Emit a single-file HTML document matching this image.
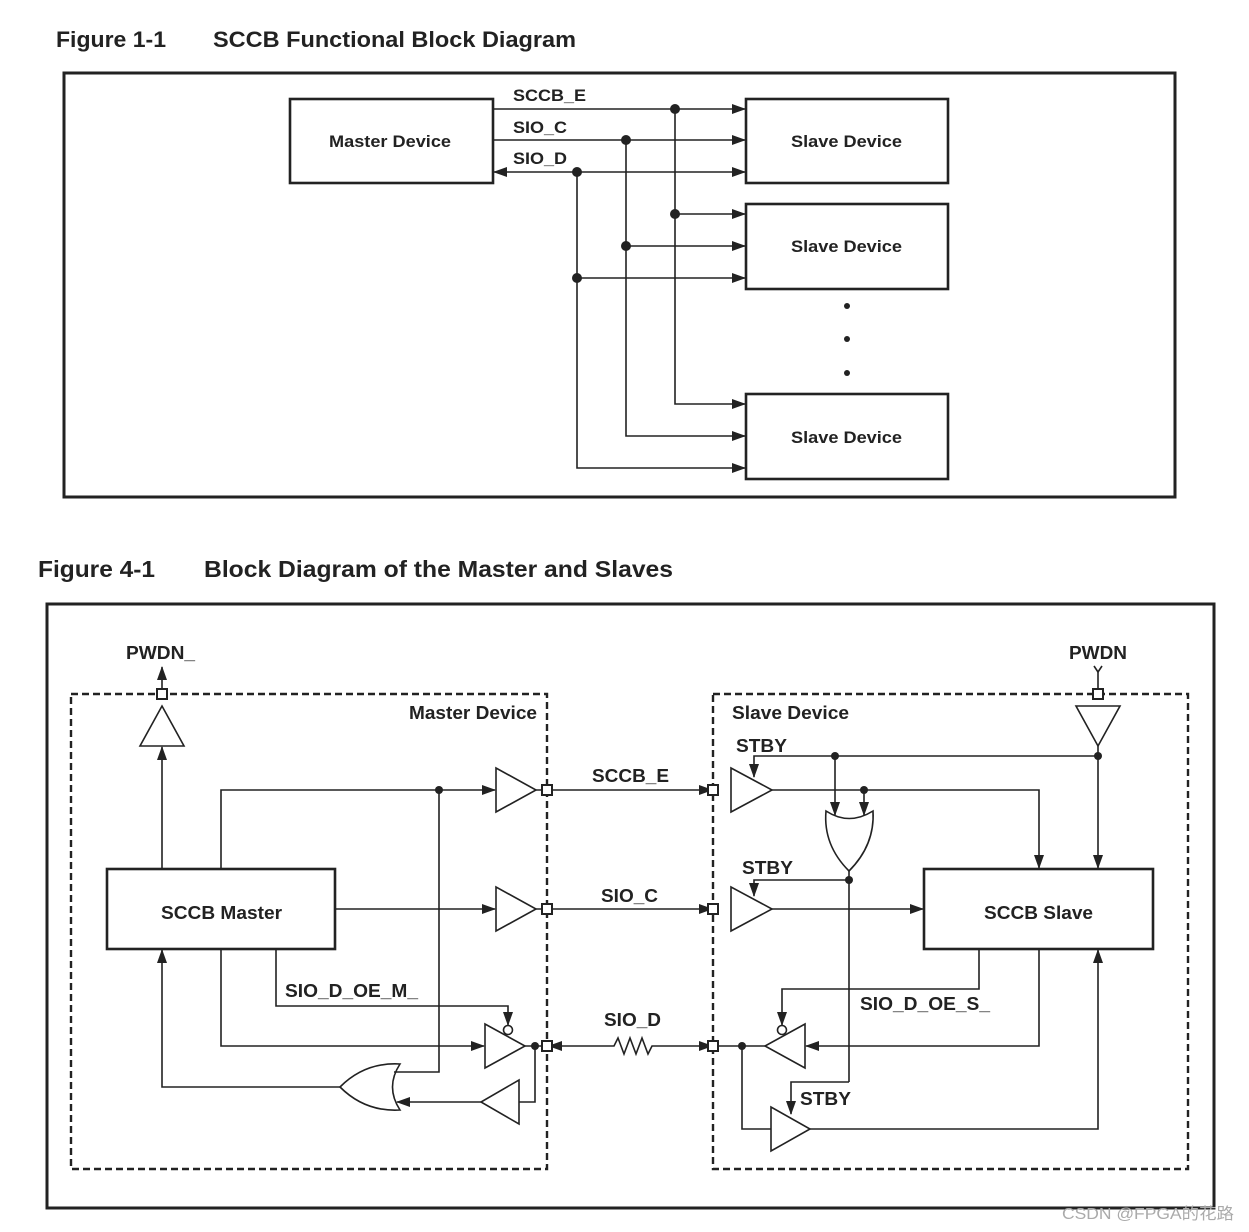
<!DOCTYPE html>
<html><head><meta charset="utf-8"><style>
html,body{margin:0;padding:0;background:#fff;}
svg{display:block;}
text{font-family:"Liberation Sans","Noto Sans CJK SC",sans-serif;font-weight:bold;fill:#222;}
</style></head><body>
<svg width="1249" height="1232" viewBox="0 0 1249 1232" xmlns="http://www.w3.org/2000/svg">
<defs>
<marker id="a" markerWidth="14" markerHeight="10" refX="13" refY="5" orient="auto" markerUnits="userSpaceOnUse">
<path d="M0,0 L14,5 L0,10 z" fill="#222"/></marker>
</defs>
<g stroke="#222" fill="none" stroke-width="1.6">
<rect x="64" y="73" width="1111" height="424" stroke-width="3"/>
<rect x="290" y="99" width="203" height="84" stroke-width="2.6"/>
<rect x="746" y="99" width="202" height="84" stroke-width="2.6"/>
<rect x="746" y="204" width="202" height="85" stroke-width="2.6"/>
<rect x="746" y="394" width="202" height="85" stroke-width="2.6"/>
<line x1="493" y1="109" x2="745" y2="109" marker-end="url(#a)"/>
<line x1="493" y1="140" x2="745" y2="140" marker-end="url(#a)"/>
<line x1="577" y1="172" x2="745" y2="172" marker-end="url(#a)"/>
<line x1="577" y1="172" x2="494" y2="172" marker-end="url(#a)"/>
<polyline points="675,109 675,404 745,404" marker-end="url(#a)"/>
<line x1="675" y1="214" x2="745" y2="214" marker-end="url(#a)"/>
<polyline points="626,140 626,436 745,436" marker-end="url(#a)"/>
<line x1="626" y1="246" x2="745" y2="246" marker-end="url(#a)"/>
<polyline points="577,172 577,468 745,468" marker-end="url(#a)"/>
<line x1="577" y1="278" x2="745" y2="278" marker-end="url(#a)"/>

<rect x="47" y="604" width="1167" height="604" stroke-width="3"/>
<rect x="71" y="694" width="476" height="475" stroke-width="2.4" stroke-dasharray="7,4"/>
<rect x="713" y="694" width="475" height="475" stroke-width="2.4" stroke-dasharray="7,4"/>
<rect x="107" y="869" width="228" height="80" stroke-width="2.6"/>
<rect x="924" y="869" width="229" height="80" stroke-width="2.6"/>

<line x1="162" y1="689" x2="162" y2="667" marker-end="url(#a)"/>
<polygon points="140,746 184,746 162,706"/>
<line x1="162" y1="869" x2="162" y2="747" marker-end="url(#a)"/>
<polyline points="221,869 221,790 495,790" marker-end="url(#a)"/>
<polygon points="496,768 496,812 536,790"/>
<line x1="536" y1="790" x2="712" y2="790" marker-end="url(#a)"/>
<line x1="335" y1="909" x2="495" y2="909" marker-end="url(#a)"/>
<polygon points="496,887 496,931 536,909"/>
<line x1="536" y1="909" x2="712" y2="909" marker-end="url(#a)"/>
<polyline points="276,949 276,1006 508,1006 508,1025" marker-end="url(#a)"/>
<circle cx="508" cy="1030" r="4.5"/>
<polygon points="485,1024 485,1068 525,1046"/>
<polyline points="221,949 221,1046 484,1046" marker-end="url(#a)"/>
<line x1="525" y1="1046" x2="547" y2="1046"/>
<line x1="610" y1="1046" x2="549" y2="1046" marker-end="url(#a)"/>
<polyline points="610,1046 614,1046 618,1038 624,1054 630,1038 636,1054 642,1038 648,1054 652,1046 656,1046"/>
<line x1="656" y1="1046" x2="712" y2="1046" marker-end="url(#a)"/>
<polyline points="535,1046 535,1102 519,1102"/>
<polygon points="519,1080 519,1124 481,1102"/>
<line x1="481" y1="1102" x2="397" y2="1102" marker-end="url(#a)"/>
<path d="M400,1064 Q385,1087 400,1110 Q365,1112 340,1087 Q365,1062 400,1064 Z"/>
<polyline points="439,790 439,1072 394,1072"/>
<polyline points="340,1087 162,1087 162,950" marker-end="url(#a)"/>

<polygon points="731,768 731,812 772,790"/>
<polyline points="1098,756 754,756 754,777" marker-end="url(#a)"/>
<line x1="835" y1="756" x2="835" y2="815" marker-end="url(#a)"/>
<polyline points="772,790 1039,790 1039,868" marker-end="url(#a)"/>
<line x1="864" y1="790" x2="864" y2="815" marker-end="url(#a)"/>
<path d="M826,811 Q849,826 873,811 Q875,845 849,871 Q823,845 826,811 Z"/>
<line x1="849" y1="871" x2="849" y2="1082"/>
<polyline points="849,880 754,880 754,896" marker-end="url(#a)"/>
<polygon points="731,887 731,931 772,909"/>
<line x1="772" y1="909" x2="923" y2="909" marker-end="url(#a)"/>
<polyline points="1094,666 1098,672 1102,666"/>
<line x1="1098" y1="672" x2="1098" y2="689"/>
<polygon points="1076,706 1120,706 1098,746"/>
<line x1="1098" y1="746" x2="1098" y2="868" marker-end="url(#a)"/>
<polyline points="979,949 979,989 782,989 782,1025" marker-end="url(#a)"/>
<circle cx="782" cy="1030" r="4.5"/>
<polygon points="805,1024 805,1068 765,1046"/>
<polyline points="1039,949 1039,1046 806,1046" marker-end="url(#a)"/>
<line x1="765" y1="1046" x2="718" y2="1046"/>
<polyline points="742,1046 742,1129 771,1129"/>
<polygon points="771,1107 771,1151 810,1129"/>
<polyline points="810,1129 1098,1129 1098,950" marker-end="url(#a)"/>
<polyline points="849,1082 791,1082 791,1114" marker-end="url(#a)"/>
</g>
<g fill="#fff" stroke="#222" stroke-width="2">
<rect x="157" y="689" width="10" height="10"/>
<rect x="542" y="785" width="10" height="10"/>
<rect x="542" y="904" width="10" height="10"/>
<rect x="542" y="1041" width="10" height="10"/>
<rect x="708" y="785" width="10" height="10"/>
<rect x="708" y="904" width="10" height="10"/>
<rect x="708" y="1041" width="10" height="10"/>
<rect x="1093" y="689" width="10" height="10"/>
</g>
<g fill="#222">
<circle cx="675" cy="109" r="5"/><circle cx="626" cy="140" r="5"/><circle cx="577" cy="172" r="5"/>
<circle cx="675" cy="214" r="5"/><circle cx="626" cy="246" r="5"/><circle cx="577" cy="278" r="5"/>
<circle cx="847" cy="306" r="3"/><circle cx="847" cy="339" r="3"/><circle cx="847" cy="373" r="3"/>
<circle cx="439" cy="790" r="4"/><circle cx="535" cy="1046" r="4"/>
<circle cx="835" cy="756" r="4"/><circle cx="864" cy="790" r="4"/><circle cx="849" cy="880" r="4"/>
<circle cx="1098" cy="756" r="4"/><circle cx="742" cy="1046" r="4"/>
</g>
<text x="56" y="47" font-size="22" textLength="110" lengthAdjust="spacingAndGlyphs">Figure 1-1</text>
<text x="213" y="47" font-size="22" textLength="363" lengthAdjust="spacingAndGlyphs">SCCB Functional Block Diagram</text>
<text x="329" y="147" font-size="17" textLength="122" lengthAdjust="spacingAndGlyphs">Master Device</text>
<text x="791" y="147" font-size="17" textLength="111" lengthAdjust="spacingAndGlyphs">Slave Device</text>
<text x="791" y="252" font-size="17" textLength="111" lengthAdjust="spacingAndGlyphs">Slave Device</text>
<text x="791" y="443" font-size="17" textLength="111" lengthAdjust="spacingAndGlyphs">Slave Device</text>
<text x="513" y="101" font-size="17" textLength="73" lengthAdjust="spacingAndGlyphs">SCCB_E</text>
<text x="513" y="133" font-size="17" textLength="54" lengthAdjust="spacingAndGlyphs">SIO_C</text>
<text x="513" y="164" font-size="17" textLength="54" lengthAdjust="spacingAndGlyphs">SIO_D</text>

<text x="38" y="577" font-size="23" textLength="117" lengthAdjust="spacingAndGlyphs">Figure 4-1</text>
<text x="204" y="577" font-size="23" textLength="469" lengthAdjust="spacingAndGlyphs">Block Diagram of the Master and Slaves</text>
<text x="126" y="659" font-size="18" textLength="69" lengthAdjust="spacingAndGlyphs">PWDN_</text>
<text x="1069" y="659" font-size="18" textLength="58" lengthAdjust="spacingAndGlyphs">PWDN</text>
<text x="409" y="719" font-size="18" textLength="128" lengthAdjust="spacingAndGlyphs">Master Device</text>
<text x="732" y="719" font-size="18" textLength="117" lengthAdjust="spacingAndGlyphs">Slave Device</text>
<text x="161" y="919" font-size="18" textLength="121" lengthAdjust="spacingAndGlyphs">SCCB Master</text>
<text x="984" y="919" font-size="18" textLength="109" lengthAdjust="spacingAndGlyphs">SCCB Slave</text>
<text x="592" y="782" font-size="18" textLength="77" lengthAdjust="spacingAndGlyphs">SCCB_E</text>
<text x="601" y="902" font-size="18" textLength="57" lengthAdjust="spacingAndGlyphs">SIO_C</text>
<text x="604" y="1026" font-size="18" textLength="57" lengthAdjust="spacingAndGlyphs">SIO_D</text>
<text x="285" y="997" font-size="18" textLength="133" lengthAdjust="spacingAndGlyphs">SIO_D_OE_M_</text>
<text x="860" y="1010" font-size="18" textLength="130" lengthAdjust="spacingAndGlyphs">SIO_D_OE_S_</text>
<text x="736" y="752" font-size="18" textLength="51" lengthAdjust="spacingAndGlyphs">STBY</text>
<text x="742" y="874" font-size="18" textLength="51" lengthAdjust="spacingAndGlyphs">STBY</text>
<text x="800" y="1105" font-size="18" textLength="51" lengthAdjust="spacingAndGlyphs">STBY</text>
<text x="1062" y="1219" font-size="16" textLength="172" lengthAdjust="spacingAndGlyphs" style="font-weight:normal;fill:#aaa">CSDN @FPGA的花路</text>
</svg>
</body></html>
